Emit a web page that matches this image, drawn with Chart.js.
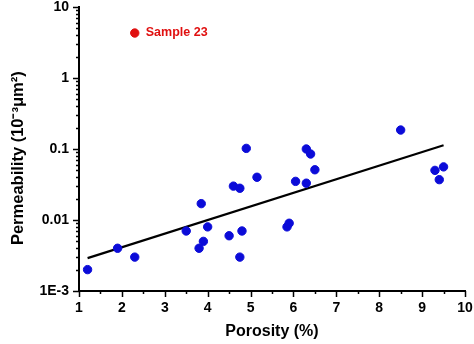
<!DOCTYPE html>
<html>
<head>
<meta charset="utf-8">
<script src="https://cdn.jsdelivr.net/npm/chart.js@4"></script>
<style>
  html, body { margin: 0; padding: 0; background: #fff; }
  #wrap { width: 474px; height: 344px; }
</style>
</head>
<body>
<div id="wrap"><canvas id="permChart"></canvas></div>
<script>
// Porosity (%) vs permeability (10^-3 um^2)
const porosity = [1.2, 1.9, 2.3, 3.5, 3.8, 3.85, 3.9, 4.0, 4.5, 4.6, 4.75, 4.75, 4.8, 4.9, 5.15, 5.85, 5.9, 6.05, 6.3, 6.3, 6.4, 6.5, 8.5, 9.3, 9.4, 9.5];
const permeability = [0.002, 0.004, 0.003, 0.007, 0.004, 0.017, 0.005, 0.008, 0.006, 0.030, 0.028, 0.003, 0.007, 0.102, 0.040, 0.008, 0.009, 0.035, 0.100, 0.033, 0.085, 0.051, 0.185, 0.050, 0.037, 0.056];

// outlier
const outlierX = [2.3];
const outlierY = [4.3];
const outlierLabel = 'Sample 23';

// regression line (straight on log axis)
const fitX = [1.2, 9.5];
const fitY = [0.0029, 0.113];

const yTickValues = [0.001, 0.01, 0.1, 1, 10];
const yTickLabels = ['1E-3', '0.01', '0.1', '1', '10'];

const BLUE = '#0b0bd8';
const RED = '#e01010';
const FONT = '"Liberation Sans", Arial, sans-serif';

// short outward ticks, major and minor
const axisTicks = {
    id: 'axisTicks',
    afterDraw(chart) {
        const ctx = chart.ctx;
        const x = chart.scales.x, y = chart.scales.y;
        const area = chart.chartArea;
        ctx.save();
        ctx.strokeStyle = '#000';
        ctx.lineWidth = 1.5;
        ctx.beginPath();
        for (let v = 1; v <= 10.001; v += 0.5) {
            const px = Math.round(x.getPixelForValue(v)) + 0.5;
            const len = Number.isInteger(v) ? 6 : 3;
            ctx.moveTo(px, area.bottom);
            ctx.lineTo(px, area.bottom + len);
        }
        for (let d = 0.001; d <= 10.0001; d *= 10) {
            for (let m = 1; m <= 9; m++) {
                const v = d * m;
                if (v > 10.0001) break;
                const py = Math.round(y.getPixelForValue(v)) + 0.5;
                const len = m === 1 ? 6 : 3;
                ctx.moveTo(area.left, py);
                ctx.lineTo(area.left - len, py);
            }
        }
        ctx.stroke();

        // label next to the outlier point
        const pt = chart.getDatasetMeta(1).data[0];
        ctx.fillStyle = RED;
        ctx.font = 'bold 12.5px ' + FONT;
        ctx.textBaseline = 'middle';
        ctx.fillText(outlierLabel, pt.x + 11, pt.y);
        ctx.restore();
    }
};

const ctx = document.getElementById('permChart').getContext('2d');
new Chart(ctx, {
    type: 'scatter',
    data: {
        datasets: [
            {
                label: 'Samples',
                data: porosity.map((p, i) => ({ x: p, y: permeability[i] })),
                backgroundColor: BLUE,
                borderColor: BLUE,
                pointRadius: 4.2,
                order: 1
            },
            {
                label: outlierLabel,
                data: outlierX.map((p, i) => ({ x: p, y: outlierY[i] })),
                backgroundColor: RED,
                borderColor: RED,
                pointRadius: 4.2,
                order: 1
            },
            {
                type: 'line',
                label: 'Fit',
                data: fitX.map((p, i) => ({ x: p, y: fitY[i] })),
                borderColor: '#000',
                borderWidth: 2.2,
                pointRadius: 0,
                fill: false,
                order: 2
            }
        ]
    },
    options: {
        responsive: true,
        maintainAspectRatio: false,
        animation: false,
        layout: { padding: { top: 7, right: 9, left: 0, bottom: 0 } },
        plugins: {
            legend: { display: false },
            tooltip: { enabled: false }
        },
        scales: {
            x: {
                type: 'linear',
                min: 1,
                max: 10,
                afterFit: (s) => { s.height = 53; s.paddingLeft = 0; s.paddingRight = 0; },
                border: { display: true, color: '#000', width: 2 },
                grid: { display: false, drawTicks: false },
                ticks: {
                    stepSize: 1,
                    padding: 9,
                    color: '#000',
                    font: { family: FONT, size: 14, weight: 'bold' }
                },
                title: {
                    display: true,
                    text: 'Porosity (%)',
                    color: '#000',
                    padding: { top: 0, bottom: 3 },
                    font: { family: FONT, size: 16, weight: 'bold' }
                }
            },
            y: {
                type: 'logarithmic',
                min: 0.001,
                max: 10,
                afterFit: (s) => { s.width = 79; s.paddingTop = 0; s.paddingBottom = 0; },
                afterBuildTicks: (s) => { s.ticks = yTickValues.map(v => ({ value: v })); },
                border: { display: true, color: '#000', width: 2 },
                grid: { display: false, drawTicks: false },
                ticks: {
                    padding: 10,
                    color: '#000',
                    font: { family: FONT, size: 14, weight: 'bold' },
                    callback: (v) => {
                        const i = yTickValues.findIndex(t => Math.abs(t - v) / t < 1e-6);
                        return i >= 0 ? yTickLabels[i] : '';
                    }
                },
                title: {
                    display: true,
                    text: 'Permeability (10\u207B\u00B3\u03BCm\u00B2)    ',
                    color: '#000',
                    padding: { top: 9, bottom: 0 },
                    font: { family: FONT, size: 16.5, weight: 'bold' }
                }
            }
        }
    },
    plugins: [axisTicks]
});
</script>
</body>
</html>
